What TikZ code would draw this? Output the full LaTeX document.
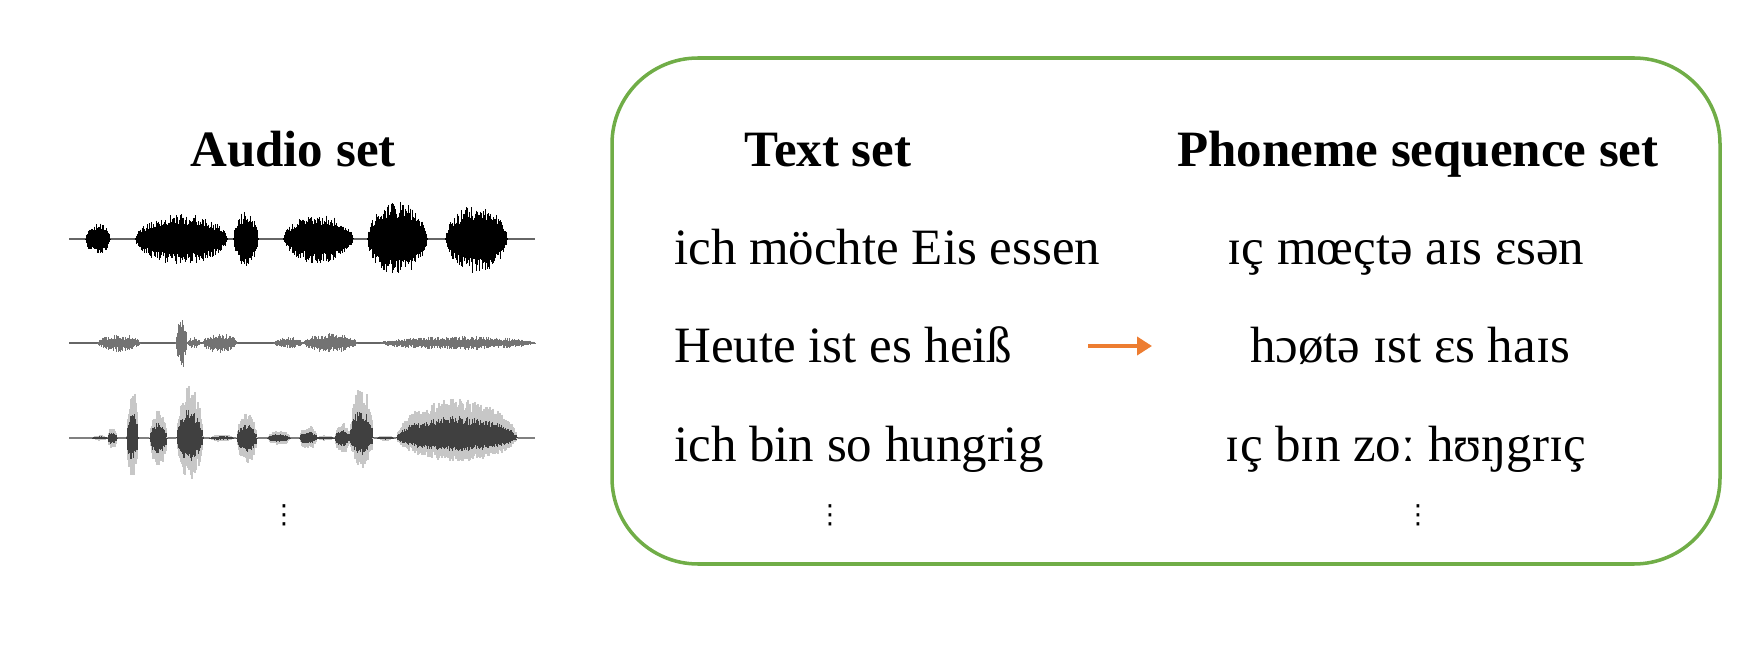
\documentclass[tikz,border=0pt]{standalone}
\usepackage{fontspec}
\setmainfont{Liberation Serif}
\newfontfamily\dotsfont{DejaVu Sans}
\usepackage{tikz}
\usetikzlibrary{arrows.meta, positioning}

\definecolor{boxgreen}{HTML}{70AD47}
\definecolor{arroworange}{HTML}{ED7D31}

\begin{document}
\begin{tikzpicture}[
        x=0.02cm, y=-0.02cm,
        header/.style={anchor=base, font=\fontsize{29}{34}\selectfont\bfseries},
        sentence/.style={anchor=base west, font=\fontsize{29}{34}\selectfont},
        phonemes/.style={anchor=base, font=\fontsize{29}{34}\selectfont},
        more/.style={font=\dotsfont\fontsize{15}{16}\selectfont},
        setbox/.style={draw=boxgreen, line width=2pt, rounded corners=1.72cm},
        convert/.style={-{Triangle[length=0.3cm, width=0.36cm]}, arroworange, line width=2.8pt},
        darkbar/.style={line width=0.5pt, black},
        softbar/.style={line width=0.6pt, black!75},
        greybar/.style={line width=0.5pt, black!55},
        palebar/.style={line width=0.6pt, black!22}
    ]
        \useasboundingbox (0,0) rectangle (1751,648);
        \pgfmathsetseed{7}

        % 1. Audio set
        \node (audio) [header] at (293,167) {Audio set};

        % first waveform
        \draw [black!60, line width=0.6pt] (69,239) -- (535,239);
        \foreach \ws/\we/\wh in {85/110/16, 135/227/26, 233/258/28, 283/353/25, 367/427/38, 445/507/34} {
            \foreach \px in {\ws,...,\we} {
                \pgfmathsetmacro\wang{180/(\we-\ws)*(\px-\ws)}
                \pgfmathsetmacro\wenv{\wh*sqrt(max(0.001,sin(\wang)))}
                \pgfmathsetmacro\wup{\wenv*(0.55+0.45*rnd)}
                \pgfmathsetmacro\wdn{\wenv*(0.55+0.45*rnd)}
                \draw [darkbar] (\px,239-\wup) -- (\px,239+\wdn);
            }
        }

        % second waveform
        \draw [black!60, line width=0.6pt] (69,343) -- (535,343);
        \foreach \ws/\we/\wh in {97/140/9, 175/187/26, 187/200/6, 202/237/10, 273/303/6, 303/357/10, 380/535/7} {
            \foreach \px in {\ws,...,\we} {
                \pgfmathsetmacro\wang{180/(\we-\ws)*(\px-\ws)}
                \pgfmathsetmacro\wenv{\wh*sqrt(max(0.001,sin(\wang)))}
                \pgfmathsetmacro\wup{\wenv*(0.4+0.6*rnd)}
                \pgfmathsetmacro\wdn{\wenv*(0.4+0.6*rnd)}
                \draw [greybar] (\px,343-\wup) -- (\px,343+\wdn);
            }
        }

        % third waveform
        \draw [black!50, line width=0.6pt] (69,438) -- (535,438);
        \foreach \ws/\we/\wu/\wd in {93/107/3/3, 108/117/12/12, 127/138/52/42, 150/167/30/30, 177/203/52/42, 210/233/4/4, 237/257/26/26, 268/290/8/8, 300/317/13/13, 317/333/3/3, 335/350/16/16, 350/373/52/32, 378/393/3/3, 397/517/40/24} {
            \foreach \px in {\ws,...,\we} {
                \pgfmathsetmacro\wang{180/(\we-\ws)*(\px-\ws)}
                \pgfmathsetmacro\wenv{sqrt(max(0.001,sin(\wang)))}
                \pgfmathsetmacro\wup{\wu*\wenv*(0.6+0.4*rnd)}
                \pgfmathsetmacro\wdn{\wd*\wenv*(0.6+0.4*rnd)}
                \draw [palebar] (\px,438-\wup) -- (\px,438+\wdn);
                \draw [softbar] (\px,438-0.55*\wup) -- (\px,438+0.55*\wdn);
            }
        }

        \node (audio_more) [more] at (284,515) {⋮};

        % 2. Text and phoneme sets
        \draw [setbox] (612,58) rectangle (1720,564);

        \node (text) [header] at (828,167) {Text set};
        \node (phone) [header] at (1418,167) {Phoneme sequence set};

        \node (sent_a) [sentence] at (668,265) {ich möchte Eis essen};
        \node (sent_b) [sentence] at (668,363) {Heute ist es heiß};
        \node (sent_c) [sentence] at (668,461) {ich bin so hungrig};
        \node (text_more) [more] at (830,515) {⋮};

        \node (phone_a) [phonemes] at (1406,265) {ɪç mœçtə aɪs ɛsən};
        \node (phone_b) [phonemes] at (1410,363) {hɔøtə ɪst ɛs haɪs};
        \node (phone_c) [phonemes] at (1406,461) {ɪç bɪn zoː hʊŋgrɪç};
        \node (phone_more) [more] at (1418,515) {⋮};

        % Connection
        \coordinate (conv_from) at (1088,346);
        \coordinate (conv_to) at (1152,346);
        \draw [convert] (conv_from) -- (conv_to);

    \end{tikzpicture}
\end{document}
